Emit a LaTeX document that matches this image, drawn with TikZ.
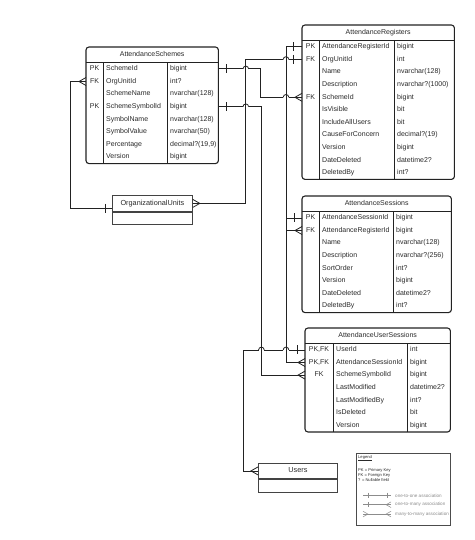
\documentclass[tikz,border=0pt]{standalone}
\usepackage{fontspec}
\setmainfont{Liberation Sans}
\usetikzlibrary{positioning,calc}
\definecolor{LineDark}{HTML}{222222}
\definecolor{TextDark}{HTML}{2A2A2A}
\definecolor{LegendGray}{HTML}{8C8C8C}

% one table: name, x, y, key width, field width, type width, title, rows
\newcommand{\ertbl}[8]{%
  \pgfmathsetmacro{\tblw}{#4+#5+#6}%
  \node[ttl, minimum width=\tblw, anchor=north west] (#1) at (#2,#3) {#7};
  \foreach \fk/\fn/\fty [count=\i] in {#8} {
    \node[rowbox, minimum width=\tblw, anchor=north west] (#1\i)
      at ($(#1.south west)+(0,{12.6*(\i-1)})$) {};
    \node[cell] at ($(#1\i.west)+({#4/2},0)$) {\fk};
    \node[cell, anchor=west] at ($(#1\i.west)+(#4,0)$) {\fn};
    \node[cell, anchor=west] at ($(#1\i.west)+({#4+#5},0)$) {\fty};
    \xdef\nrows{\i}
  }
  \draw[frame] (#1.north west) rectangle (#1\nrows.south east);
  \draw[frame] (#1.south west) -- (#1.south east);
  \draw[div] ($(#1.south west)+(#4,0)$) -- ($(#1\nrows.south west)+(#4,0)$);
  \draw[div] ($(#1.south west)+({#4+#5},0)$) -- ($(#1\nrows.south west)+({#4+#5},0)$);
}

\tikzset{
  one/.pic={\draw (0,-4.5) -- (0,4.5);},
  crow/.pic={\draw (0,-4) -- (-7,0) -- (0,4);},
  hop/.pic={\fill[white] (-2.8,-0.9) rectangle (2.8,0.9);
            \draw (0,-1.2) -- (0,1.2);
            \draw (-2.8,0) arc[start angle=180, end angle=360, radius=2.8];}
}

\begin{document}
\begin{tikzpicture}[x=1pt, y=-1pt,
    ttl/.style={inner sep=0pt, minimum height=15, text=TextDark,
                text height=5.2pt, text depth=1.5pt,
                font=\fontsize{7}{8}\selectfont},
    rowbox/.style={inner sep=0pt, minimum height=12.6},
    cell/.style={inner xsep=3pt, inner ysep=0pt, text=TextDark,
                 text height=5.2pt, text depth=1.5pt,
                 font=\fontsize{7}{8}\selectfont},
    frame/.style={line width=1.1pt, draw=LineDark, rounded corners=3pt},
    div/.style={line width=0.8pt, draw=LineDark},
    ebox/.style={draw=LineDark!85, line width=0.8pt, inner sep=0pt, text=TextDark,
                 text height=5.4pt, text depth=1.6pt,
                 font=\fontsize{7.3}{8}\selectfont},
    rel/.style={line width=0.8pt, color=LineDark},
    lgtxt/.style={inner sep=0pt, text=TextDark, font=\fontsize{4.1}{4.8}\selectfont},
    lglab/.style={inner sep=0pt, text=LegendGray, font=\fontsize{4.6}{5}\selectfont},
    lgl/.style={line width=0.5pt, color=LegendGray}]
  \fill[white] (0,0) rectangle (474,540);
  \useasboundingbox (0,0) rectangle (474,540);

  % tables
  \ertbl{sch}{86}{47}{17}{64}{51}{AttendanceSchemes}{%
    PK/SchemeId/bigint, FK/OrgUnitId/int?, {}/SchemeName/nvarchar(128),
    PK/SchemeSymbolId/bigint, {}/SymbolName/nvarchar(128),
    {}/SymbolValue/nvarchar(50), {}/Percentage/{decimal?(19,9)},
    {}/Version/bigint}
  \ertbl{reg}{302}{25}{17}{75}{60}{AttendanceRegisters}{%
    PK/AttendanceRegisterId/bigint, FK/OrgUnitId/int,
    {}/Name/nvarchar(128), {}/Description/nvarchar?(1000),
    FK/SchemeId/bigint, {}/IsVisible/bit, {}/IncludeAllUsers/bit,
    {}/CauseForConcern/decimal?(19), {}/Version/bigint,
    {}/DateDeleted/datetime2?, {}/DeletedBy/int?}
  \ertbl{ses}{302}{196}{17}{74}{58}{AttendanceSessions}{%
    PK/AttendanceSessionId/bigint, FK/AttendanceRegisterId/bigint,
    {}/Name/nvarchar(128), {}/Description/nvarchar?(256),
    {}/SortOrder/int?, {}/Version/bigint, {}/DateDeleted/datetime2?,
    {}/DeletedBy/int?}
  \ertbl{aus}{305}{328}{28}{74}{43}{AttendanceUserSessions}{%
    {PK,FK}/UserId/int, {PK,FK}/AttendanceSessionId/bigint,
    FK/SchemeSymbolId/bigint, {}/LastModified/datetime2?,
    {}/LastModifiedBy/int?, {}/IsDeleted/bit, {}/Version/bigint}

  % plain entities
  \node[ebox, minimum width=80, minimum height=16, anchor=north west]
    (ou) at (112,195) {OrganizationalUnits};
  \node[ebox, minimum width=80, minimum height=12, anchor=north]
    (oub) at (ou.south) {};
  \node[ebox, minimum width=79, minimum height=15, anchor=north west]
    (usr) at (258,463) {Users};
  \node[ebox, minimum width=79, minimum height=13, anchor=north]
    (usrb) at (usr.south) {};

  % relations
  \draw[rel] (sch1.east) -- ++(42,0) |- (reg5.west);
  \draw[rel] (sch4.east) -- ++(43,0) coordinate (c2v) |- (aus3.west);
  \draw[rel] (ou.east) -- ++(53,0) coordinate (c3v) |- (reg2.west);
  \draw[rel] ($(ou.west)+(0,5)$) -- ++(-42,0) |- (sch2.west);
  \draw[rel] (reg1.west) -- ++(-16,0) coordinate (c5v) |- (ses2.west);
  \draw[rel] (ses1.west) -- ++(-16,0) coordinate (c6v) |- (aus2.west);
  \draw[rel] (usr.west) -- ++(-15,0) |- (aus1.west);

  \pic[rel] at (c3v |- sch1.east) {hop};
  \pic[rel] at (c3v |- sch4.east) {hop};
  \pic[rel] at (c5v |- reg5.west) {hop};
  \pic[rel] at (c5v |- reg2.west) {hop};
  \pic[rel] at (c2v |- aus1.west) {hop};
  \pic[rel] at (c6v |- aus1.west) {hop};

  \pic[rel] at ($(sch1.east)+(8,0)$) {one};
  \pic[rel] at (reg5.west) {crow};
  \pic[rel] at ($(sch4.east)+(8,0)$) {one};
  \pic[rel] at (aus3.west) {crow};
  \pic[rel, xscale=-1] at (ou.east) {crow};
  \pic[rel] at ($(reg2.west)+(-9,0)$) {one};
  \pic[rel] at ($(ou.west)+(-7,5)$) {one};
  \pic[rel] at (sch2.west) {crow};
  \pic[rel] at ($(reg1.west)+(-9,0)$) {one};
  \pic[rel] at (ses2.west) {crow};
  \pic[rel] at ($(ses1.west)+(-8,0)$) {one};
  \pic[rel] at (aus2.west) {crow};
  \pic[rel] at ($(aus1.west)+(-8,0)$) {one};
  \pic[rel] at (usr.west) {crow};

  % legend
  \node[draw=black!70, line width=0.6pt, minimum width=94, minimum height=72,
        anchor=north west, inner sep=0pt] (lgd) at (356,453) {};
  \node[lgtxt, anchor=west] (lgdh) at ($(lgd.north west)+(2,5)$) {\underline{Legend}};
  \node[lgtxt, anchor=north west, align=left] (lgdk) at ($(lgd.north west)+(2,15.8)$)
    {PK = Primary Key\\FK = Foreign Key\\? = Nullable field};
  \foreach \lab [count=\i] in {one-to-one association, one-to-many association,
                               many-to-many association} {
    \coordinate (la\i) at ($(lgd.north west)+(7,{33+9.35*\i})$);
    \coordinate (lb\i) at ($(la\i)+(28,0)$);
    \draw[lgl] (la\i) -- (lb\i);
    \node[lglab, anchor=west] at ($(lb\i)+(4,0)$) {\lab};
  }
  \pic[lgl, scale=0.6] at ($(la1)+(5,0)$) {one};
  \pic[lgl, scale=0.6] at ($(lb1)+(-4,0)$) {one};
  \pic[lgl, scale=0.6] at ($(la2)+(5,0)$) {one};
  \pic[lgl, scale=0.7] at (lb2) {crow};
  \pic[lgl, scale=0.7, xscale=-1] at (la3) {crow};
  \pic[lgl, scale=0.7] at (lb3) {crow};
\end{tikzpicture}
\end{document}
